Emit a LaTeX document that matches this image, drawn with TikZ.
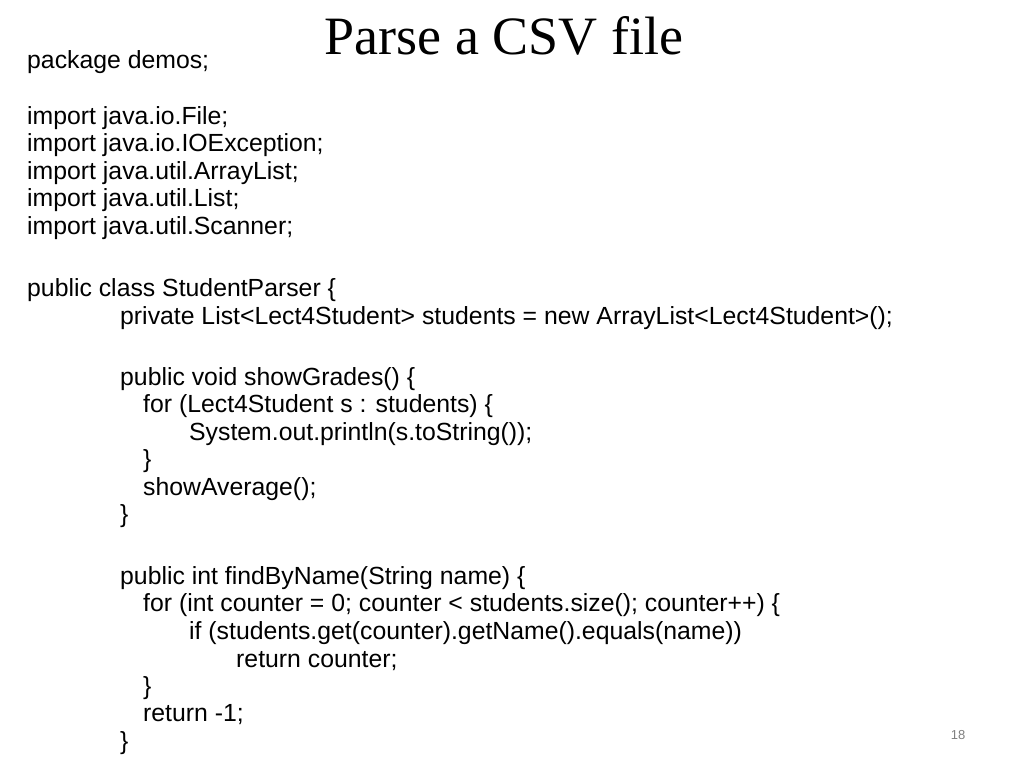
\documentclass[tikz,border=0pt]{standalone}
\usepackage{fontspec}
\setmainfont{Liberation Serif}
\newfontfamily\codefont{Liberation Sans}
\tikzset{
  codeline/.style={anchor=mid west, inner sep=0pt, font=\codefont\fontsize{24.8}{28}\selectfont},
}
\begin{document}
\begin{tikzpicture}[x=1pt,y=-1pt]
	\useasboundingbox[fill=white] (0,0) rectangle (1024,768);
	\node[font=\fontsize{54}{58}\selectfont, inner sep=0pt] (title) at (504,36) {Parse a CSV file};
	
	% code lines: x, y, text
	\foreach \xx/\yy/\txt [count=\i] in {
		27/66/{package demos;},
		27/122/{import java.io.File;},
		27/149/{import java.io.IOException;},
		27/177/{import java.util.ArrayList;},
		27/204/{import java.util.List;},
		27/232/{import java.util.Scanner;},
		27/294/{public class StudentParser \{},
		120/322/{private List<Lect4Student> students = new ArrayList<Lect4Student>();},
		120/383/{public void showGrades() \{},
		143/410/{for (Lect4Student s : students) \{},
		189/438/{System.out.println(s.toString());},
		143/465/{\}},
		143/493/{showAverage();},
		120/520/{\}},
		120/582/{public int findByName(String name) \{},
		143/609/{for (int counter = 0; counter < students.size(); counter++) \{},
		189/637/{if (students.get(counter).getName().equals(name))},
		236/665/{return counter;},
		143/692/{\}},
		143/719/{return -1;},
		120/747/{\}}}
		\node[codeline] (line\i) at (\xx,\yy) {\txt};
	
	\node[font=\codefont\fontsize{13}{15}\selectfont, text=gray] (pagenum) at (958,735) {18};
\end{tikzpicture}
\end{document}
